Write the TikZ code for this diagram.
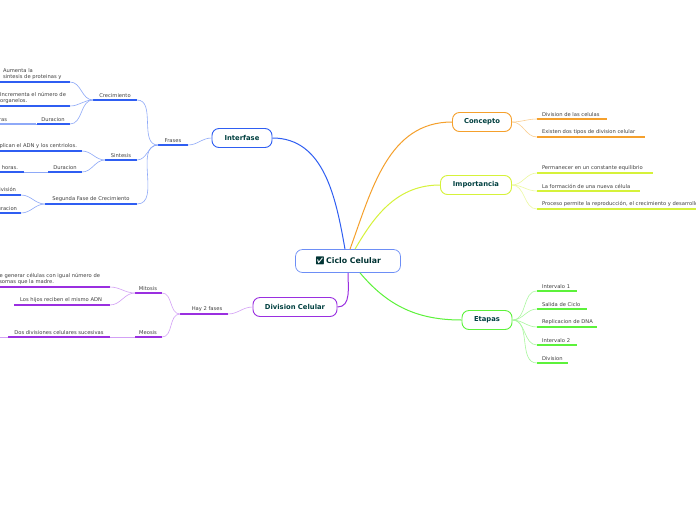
\documentclass[tikz,border=0pt]{standalone}
\usepackage{fontspec}
\setmainfont{DejaVu Sans}
\newfontfamily\emo{Noto Emoji}
\begin{document}
\begin{tikzpicture}[x=1pt,y=-1pt,
 lbl/.style={inner sep=0.8pt,text=black!75,font=\fontsize{5.2}{6.2}\selectfont,align=left},
 topic/.style={draw,line width=0.9pt,rounded corners=7pt,fill=white,minimum height=19pt,font=\bfseries\fontsize{6.8}{8}\selectfont,text=teal!50!black},
 ul/.style={line width=1.3pt},
 cn/.style={line width=0.6pt}]
\definecolor{cb}{HTML}{2F5EF2}\definecolor{cbl}{HTML}{8EA9F8}
\definecolor{cp}{HTML}{9A2FE0}\definecolor{cpl}{HTML}{D3A0F6}
\definecolor{co}{HTML}{F5A02C}\definecolor{col}{HTML}{FBCF92}
\definecolor{cy}{HTML}{D6F23A}\definecolor{cyl}{HTML}{ECF9A0}
\definecolor{cg}{HTML}{5CF23A}\definecolor{cgl}{HTML}{A9F89E}
\useasboundingbox[fill=white] (0,0) rectangle (696,520);
% center
\node[draw=cb!70,line width=0.7pt,rounded corners=7pt,fill=white,minimum width=105pt,minimum height=23pt,font=\bfseries\fontsize{7.8}{9}\selectfont,text=teal!40!black] (c) at (348,261) {{\emo ✅}\,Ciclo Celular};
% topics
\node[topic,draw=cb,minimum width=60pt] (inter) at (242,138) {Interfase};
\node[topic,draw=cp,minimum width=84pt] (div) at (295,307) {Division Celular};
\node[topic,draw=co,minimum width=59pt] (con) at (482,122) {Concepto};
\node[topic,draw=cy,minimum width=71pt] (imp) at (476,185) {Importancia};
\node[topic,draw=cg,minimum width=50pt] (eta) at (487,320) {Etapas};
\draw[cn,cb,line width=1pt] (c.north) ++(-3,0) coordinate (c1) to[out=100,in=0] (inter.east);
\draw[cn,co,line width=1pt] (c.north) ++(2,0) coordinate (c2) to[out=70,in=180] (con.west);
\draw[cn,cy,line width=1pt] (c.north) ++(7,0) coordinate (c3) to[out=60,in=180] (imp.west);
\draw[cn,cg,line width=1pt] (c.south) ++(12,0) coordinate (c4) to[out=-50,in=180] (eta.west);
\draw[cn,cp,line width=1pt] (c.south) to[out=-90,in=0] (div.east);
% ---- Interfase branch
\draw[ul,cb] (158,145) coordinate (frL) -- (188,145) coordinate (frR);
\node[lbl,anchor=south] (fr) at (173,144) {Frases};
\draw[cn,cbl] (inter.west) to[out=180,in=0] (frR);
\draw[ul,cb] (93,100) coordinate (crL) -- (137,100) coordinate (crR);
\node[lbl,anchor=south] (cr) at (115,99) {Crecimiento};
\draw[ul,cb] (105,160) coordinate (siL) -- (137,160) coordinate (siR);
\node[lbl,anchor=south] (si) at (121,159) {Sintesis};
\draw[ul,cb] (45,204) coordinate (sfL) -- (137,204) coordinate (sfR);
\node[lbl,anchor=south] (sf) at (91,203) {Segunda Fase de Crecimiento};
\foreach \t in {crR,siR,sfR}{\draw[cn,cbl] (frL) to[out=180,in=0] (\t);}
% Crecimiento leaves
\draw[ul,cb] (-5,82) -- (70,82) coordinate (l1);
\node[lbl,anchor=south west] at (2,81) {Aumenta la\\sintesis de proteinas y};
\draw[ul,cb] (-5,106) -- (70,106) coordinate (l2);
\node[lbl,anchor=south east] at (67,105) {Incrementa el número de\\organelos.};
\draw[ul,cb] (37,124) coordinate (duL) -- (70,124) coordinate (l3);
\node[lbl,anchor=south] at (53,123) {Duracion};
\draw[ul,cbl] (-5,124) -- (36,124) coordinate (l3b);
\node[lbl,anchor=south east] at (8,123) {8 horas};
\draw[cn,cbl] (duL) -- (l3b);
\foreach \t in {l1,l2,l3}{\draw[cn,cbl] (crL) to[out=180,in=0] (\t);}
% Sintesis leaves
\draw[ul,cb] (-5,151) -- (82,151) coordinate (s1);
\node[lbl,anchor=south east] at (78,150) {Se duplican el ADN y los centriolos.};
\draw[ul,cb] (48,172) coordinate (du2L) -- (82,172) coordinate (s2);
\node[lbl,anchor=south] at (65,171) {Duracion};
\draw[ul,cb] (-5,172) -- (24,172) coordinate (s2b);
\node[lbl,anchor=south east] at (19,171) {6 a 8 horas.};
\draw[cn,cbl] (du2L) -- (s2b);
\foreach \t in {s1,s2}{\draw[cn,cbl] (siL) to[out=180,in=0] (\t);}
% Segunda fase leaves
\draw[ul,cb] (-5,195) -- (21,195) coordinate (f1);
\node[lbl,anchor=south east] at (17,194) {Prepara la división};
\draw[ul,cb] (-5,213) -- (21,213) coordinate (f2);
\node[lbl,anchor=south east] at (18,212) {Duracion};
\foreach \t in {f1,f2}{\draw[cn,cbl] (sfL) to[out=180,in=0] (\t);}
% ---- Division Celular branch
\draw[ul,cp] (180,314) coordinate (hL) -- (228,314) coordinate (hR);
\node[lbl,anchor=south] at (207,313) {Hay 2 fases};
\draw[cn,cpl] (div.west) to[out=180,in=0] (hR);
\draw[ul,cp] (135,293) coordinate (miL) -- (162,293) coordinate (miR);
\node[lbl,anchor=south] at (148,292) {Mitosis};
\draw[ul,cp] (135,337) coordinate (meL) -- (162,337) coordinate (meR);
\node[lbl,anchor=south] at (148,336) {Meosis};
\foreach \t in {miR,meR}{\draw[cn,cpl] (hL) to[out=180,in=0] (\t);}
\draw[ul,cp] (-5,287) -- (110,287) coordinate (m1);
\node[lbl,anchor=south east] at (101,286) {Permite generar células con igual número de\\cromosomas que la madre.};
\draw[ul,cp] (14,305) -- (110,305) coordinate (m2);
\node[lbl,anchor=south] at (61,304) {Los hijos reciben el mismo ADN};
\foreach \t in {m1,m2}{\draw[cn,cpl] (miL) to[out=180,in=0] (\t);}
\draw[ul,cp] (8,337) coordinate (m3L) -- (110,337) coordinate (m3);
\node[lbl,anchor=south] at (59,336) {Dos divisiones celulares sucesivas};
\draw[cn,cpl] (meL) -- (m3);
\draw[cn,cpl] (m3L) -- (0,337);
% ---- Concepto
\draw[ul,co] (537,119) -- (607,119);
\node[lbl,anchor=south west] (k1) at (541,118) {Division de las celulas};
\draw[ul,co] (537,137) -- (645,137);
\node[lbl,anchor=south west] (k2) at (541,136) {Existen dos tipos de division celular};
\draw[cn,col] (con.east) to[out=0,in=180] (537,119);
\draw[cn,col] (con.east) to[out=0,in=180] (537,137);
% ---- Importancia
\foreach \y/\xe/\t in {173/653/Permanecer en un constante equilibrio,191/640/La formación de una nueva célula,209/700/{Proceso permite la reproducción, el crecimiento y desarrollo}}{
 \draw[ul,cy] (537,\y) -- (\xe,\y);
 \node[lbl,anchor=south west] at (541,\y-1) {\t};
 \draw[cn,cyl] (imp.east) to[out=0,in=180] (537,\y);}
% ---- Etapas
\foreach \y/\xe/\t in {291/577/Intervalo 1,309/587/Salida de Ciclo,327/597/Replicacion de DNA,345/577/Intervalo 2,363/568/Division}{
 \draw[ul,cg] (537,\y) -- (\xe,\y);
 \node[lbl,anchor=south west] at (541,\y-1) {\t};
 \draw[cn,cgl] (eta.east) to[out=0,in=180] (537,\y);}
\end{tikzpicture}
\end{document}
